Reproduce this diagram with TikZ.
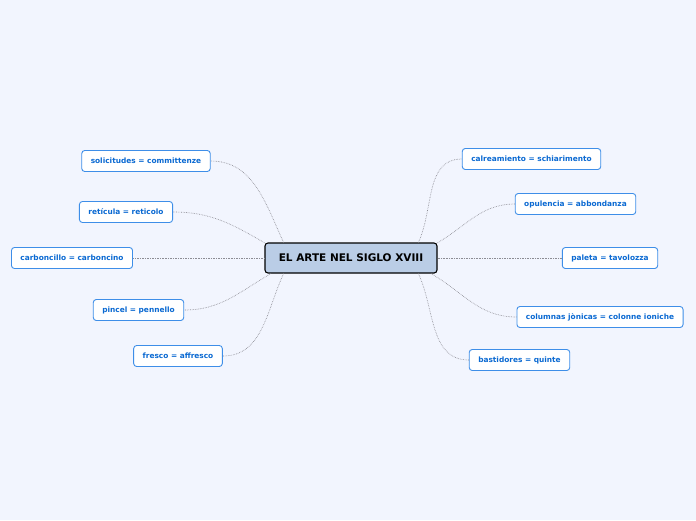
\documentclass[tikz,border=0pt]{standalone}
\usepackage{fontspec}
\setmainfont{DejaVu Sans}
\usetikzlibrary{positioning}

\definecolor{pagebg}{RGB}{242,245,254}
\definecolor{topicfill}{RGB}{186,205,230}
\definecolor{leafline}{RGB}{62,142,232}
\definecolor{leaftext}{RGB}{10,105,210}
\definecolor{linkgrey}{RGB}{140,140,148}

\begin{document}
\begin{tikzpicture}[x=1pt,y=1pt,
		topic/.style={draw=black, line width=1.1pt, fill=topicfill, rounded corners=3pt, font=\fontsize{10.5}{12}\selectfont\bfseries, minimum width=172pt, minimum height=30pt, inner sep=0pt},
		leaf/.style={draw=leafline, line width=0.9pt, fill=white, rounded corners=3pt, text=leaftext, font=\fontsize{7.4}{9}\selectfont\bfseries, minimum height=21pt, inner xsep=9pt, inner ysep=0pt},
		link/.style={draw=linkgrey, densely dotted, line width=0.65pt}]
		\fill [pagebg] (0,0) rectangle (696,-520);
		\useasboundingbox (0,0) rectangle (696,-520);
		
		\node [topic] (arte) at (351,-258) {EL ARTE NEL SIGLO XVIII};
		
		% left side
		\node [leaf] (solicitudes) at (146,-161) {solicitudes = committenze};
		\node [leaf] (reticula) at (126,-212) {retícula = reticolo};
		\node [leaf] (carboncillo) at (72,-258) {carboncillo = carboncino};
		\node [leaf] (pincel) at (138.5,-310) {pincel = pennello};
		\node [leaf] (fresco) at (178,-356) {fresco = affresco};
		
		% right side
		\node [leaf] (calreamiento) at (531.5,-159) {calreamiento = schiarimento};
		\node [leaf] (opulencia) at (575.5,-204) {opulencia = abbondanza};
		\node [leaf] (paleta) at (610,-258) {paleta = tavolozza};
		\node [leaf] (columnas) at (600,-317) {columnas jònicas = colonne ioniche};
		\node [leaf] (bastidores) at (519.5,-360) {bastidores = quinte};
		
		\draw [link] (arte.167) to[out=115, in=0] (solicitudes.east);
		\draw [link] (arte.170) to[out=150, in=0] (reticula.east);
		\draw [link] (arte.west) -- (carboncillo.east);
		\draw [link] (arte.191) to[out=210, in=0] (pincel.east);
		\draw [link] (arte.193) to[out=245, in=0] (fresco.east);
		
		\draw [link] (arte.13) to[out=65, in=180] (calreamiento.west);
		\draw [link] (arte.10.7) to[out=30, in=180] (opulencia.west);
		\draw [link] (arte.east) -- (paleta.west);
		\draw [link] (arte.-11) to[out=-30, in=180] (columnas.west);
		\draw [link] (arte.-13) to[out=-65, in=180] (bastidores.west);
	\end{tikzpicture}
\end{document}
